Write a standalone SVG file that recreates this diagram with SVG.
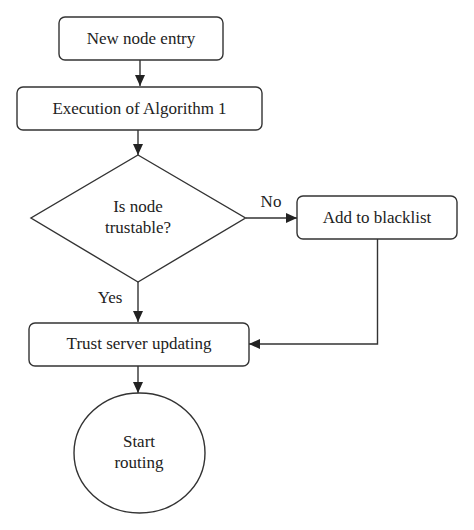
<svg xmlns="http://www.w3.org/2000/svg" width="474" height="530" viewBox="0 0 474 530" font-family="'Liberation Serif', 'DejaVu Serif', serif">
<defs>
<style>
.box{fill:#fff;stroke:#333;stroke-width:1.4}
.ln{fill:none;stroke:#333;stroke-width:1.4}
.t{font-family:'Liberation Serif','DejaVu Serif',serif;font-size:17px;fill:#222;text-anchor:middle}
</style>
<marker id="ah" viewBox="0 0 11 10" refX="11" refY="5" markerWidth="11" markerHeight="10" markerUnits="userSpaceOnUse" orient="auto">
<path d="M0,0 L11,5 L0,10 Z" fill="#222"/>
</marker>
</defs>
<rect width="474" height="530" fill="#fff"/>
<g id="connectors">
<line class="ln" x1="140" y1="60" x2="140" y2="86" marker-end="url(#ah)"/>
<line class="ln" x1="138" y1="130" x2="138" y2="155" marker-end="url(#ah)"/>
<line class="ln" x1="246" y1="218" x2="297" y2="218" marker-end="url(#ah)"/>
<line class="ln" x1="138" y1="282" x2="138" y2="322" marker-end="url(#ah)"/>
<polyline class="ln" points="377.5,239 377.5,344 249,344" marker-end="url(#ah)"/>
<line class="ln" x1="138" y1="366" x2="138" y2="393" marker-end="url(#ah)"/>
<text class="t" x="271" y="207">No</text>
<text class="t" x="110" y="303">Yes</text>
</g>
<g id="n1">
<rect class="box" x="59" y="17" width="164" height="43" rx="6"/>
<text class="t" x="141" y="44">New node entry</text>
</g>
<g id="n2">
<rect class="box" x="17" y="87" width="245" height="43" rx="6"/>
<text class="t" x="139.5" y="114">Execution of Algorithm 1</text>
</g>
<g id="n3">
<polygon class="box" points="138,155 245.5,218 138,282 31,218"/>
<text class="t" x="138" y="212">Is node</text>
<text class="t" x="138" y="233">trustable?</text>
</g>
<g id="n4">
<rect class="box" x="297" y="196" width="160" height="43" rx="6"/>
<text class="t" x="377" y="223">Add to blacklist</text>
</g>
<g id="n5">
<rect class="box" x="29" y="323" width="220" height="43" rx="6"/>
<text class="t" x="139" y="349">Trust server updating</text>
</g>
<g id="n6">
<ellipse class="box" cx="139.5" cy="453" rx="65.5" ry="60"/>
<text class="t" x="139" y="447">Start</text>
<text class="t" x="139" y="468">routing</text>
</g>
</svg>
